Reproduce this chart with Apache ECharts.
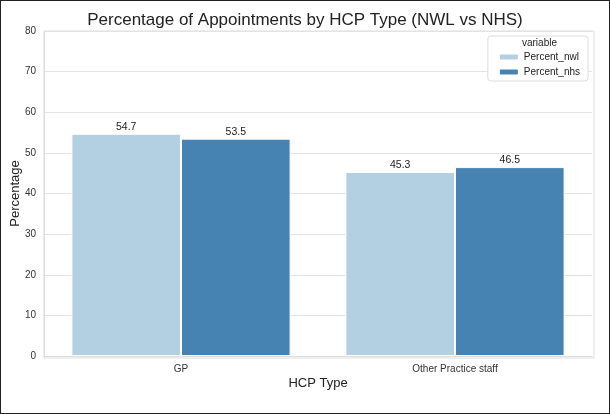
<!DOCTYPE html>
<html><head><meta charset="utf-8">
<script src="https://cdn.jsdelivr.net/npm/echarts@6/dist/echarts.min.js"></script>
<style>
html,body{margin:0;padding:0;background:#fff;}
#c{width:610px;height:414px;box-sizing:border-box;border:1.5px solid #222;}
</style></head>
<body><div id="c"></div>
<script>
const categories = ['GP', 'Other Practice staff'];
const percentNwl = [54.7, 45.3];
const percentNhs = [53.5, 46.5];
const yTicks = [0, 10, 20, 30, 40, 50, 60, 70, 80];

const chart = echarts.init(document.getElementById('c'), null, {renderer: 'canvas'});
const font = 'Liberation Sans, Arial, sans-serif';
const lbl = {show: true, position: 'top', distance: 1, fontSize: 10.5, color: '#222', fontFamily: font,
  formatter: p => p.value.toFixed(1)};
chart.setOption({
  animation: false,
  title: {text: 'Percentage of Appointments by HCP Type (NWL vs NHS)', left: 'center', top: 6,
    textStyle: {fontSize: 17, fontWeight: 'normal', color: '#222', fontFamily: font}},
  grid: {left: 43, right: 17, top: 30, bottom: 57, containLabel: false, outerBoundsMode: 'none'},
  legend: {orient: 'vertical', right: 21, top: 35, itemWidth: 20, itemHeight: 7, itemGap: 5,
    padding: [16, 8, 4, 10], borderColor: '#dcdcdc', borderWidth: 1, borderRadius: 3,
    backgroundColor: '#fff',
    textStyle: {fontSize: 10, color: '#222', fontFamily: font},
    data: ['Percent_nwl', 'Percent_nhs']},
  xAxis: {type: 'category', data: categories, name: 'HCP Type', nameLocation: 'middle', nameGap: 21,
    nameMoveOverlap: false,
    nameTextStyle: {fontSize: 13, color: '#222', fontFamily: font, verticalAlign: 'top'},
    axisLine: {show: true, lineStyle: {color: '#ddd'}}, axisTick: {show: false},
    axisLabel: {fontSize: 10, color: '#333', margin: 8, fontFamily: font},
    splitLine: {show: false}},
  yAxis: {type: 'value', min: 0, max: 80, interval: 10, name: 'Percentage', nameLocation: 'middle', nameGap: 22,
    nameMoveOverlap: false,
    nameTextStyle: {fontSize: 13, color: '#222', fontFamily: font},
    axisLine: {show: true, lineStyle: {color: '#ddd'}}, axisTick: {show: false},
    axisLabel: {fontSize: 10, color: '#333', margin: 8, fontFamily: font,
      formatter: v => yTicks.includes(v) ? String(v) : ''},
    splitLine: {lineStyle: {color: '#e3e3e3', width: 1}}},
  graphic: [{type: 'text', right: 52, top: 37, z: 100,
    style: {text: 'variable', fontSize: 10, fill: '#222', fontFamily: font}},
  {type: 'rect', shape: {x: 43, y: 30, width: 550, height: 327}, silent: true, z: 0,
    style: {fill: 'none', stroke: '#ddd', lineWidth: 1}}],
  series: [
    {name: 'Percent_nwl', type: 'bar', data: percentNwl, barGap: '0%', barCategoryGap: '20%',
      itemStyle: {color: '#b3cfe2', borderColor: '#fff', borderWidth: 1}, label: lbl},
    {name: 'Percent_nhs', type: 'bar', data: percentNhs,
      itemStyle: {color: '#4783b2', borderColor: '#fff', borderWidth: 1}, label: lbl}
  ]
});
</script></body></html>
